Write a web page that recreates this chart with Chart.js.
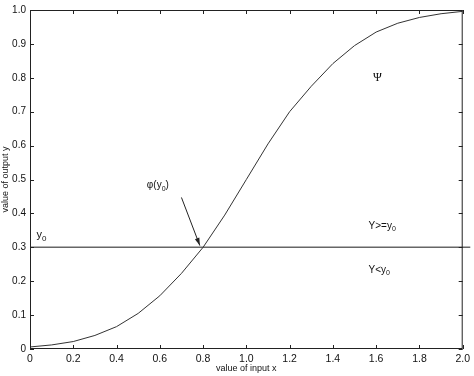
<!DOCTYPE html>
<html>
<head>
<meta charset="utf-8">
<script src="https://cdn.jsdelivr.net/npm/chart.js@4"></script>
<style>
  html, body { margin: 0; padding: 0; background: #fff; }
  #wrap { width: 474px; height: 376px; }
</style>
</head>
<body>
<div id="wrap"><canvas id="cdfChart" width="474" height="376"></canvas></div>
<script>
// valores
const inputX = [0, 0.1, 0.2, 0.3, 0.4, 0.5, 0.6, 0.7, 0.8, 0.9, 1.0,
                1.1, 1.2, 1.3, 1.4, 1.5, 1.6, 1.7, 1.8, 1.9, 2.0];
const outputY = [0.006, 0.012, 0.022, 0.04, 0.066, 0.105, 0.157, 0.223, 0.30, 0.395, 0.50,
                 0.605, 0.70, 0.775, 0.842, 0.895, 0.935, 0.961, 0.978, 0.989, 0.996];
const y0Level = 0.3;
const y0LineX = [0, 2.035];
const xTickStep = 0.2;
const yTickStep = 0.1;

const FONT = '"Liberation Sans", Arial, sans-serif';

const curvePoints = inputX.map((x, i) => ({ x: x, y: outputY[i] }));
const levelPoints = y0LineX.map(x => ({ x: x, y: y0Level }));

// texto con subindice
function drawSub(ctx, parts, x, y, size) {
    let cx = x;
    parts.forEach(p => {
        ctx.font = (p.sub ? size - 3 : size) + 'px ' + (p.font || FONT);
        ctx.fillText(p.t, cx, p.sub ? y + 3 : y);
        cx += ctx.measureText(p.t).width;
    });
}

const decoPlugin = {
    id: 'deco',
    afterDraw(chart) {
        const ctx = chart.ctx;
        const a = chart.chartArea;
        const xs = chart.scales.x;
        const ys = chart.scales.y;
        ctx.save();
        ctx.strokeStyle = '#222';
        ctx.lineWidth = 1;
        ctx.strokeRect(a.left + 0.5, a.top + 0.5, a.right - a.left - 1, a.bottom - a.top - 1);

        // marcas hacia dentro
        const tl = 4;
        ctx.beginPath();
        xs.ticks.forEach(t => {
            const px = Math.round(xs.getPixelForValue(t.value)) + 0.5;
            ctx.moveTo(px, a.bottom); ctx.lineTo(px, a.bottom - tl);
            ctx.moveTo(px, a.top); ctx.lineTo(px, a.top + tl);
        });
        ys.ticks.forEach(t => {
            const py = Math.round(ys.getPixelForValue(t.value)) + 0.5;
            ctx.moveTo(a.left, py); ctx.lineTo(a.left + tl, py);
            ctx.moveTo(a.right, py); ctx.lineTo(a.right - tl, py);
        });
        ctx.stroke();

        // titulos de ejes
        ctx.fillStyle = '#111';
        ctx.font = '9px ' + FONT;
        ctx.textAlign = 'center';
        ctx.textBaseline = 'middle';
        ctx.fillText('value of input x', (a.left + a.right) / 2, 369);
        ctx.save();
        ctx.translate(6, (a.top + a.bottom) / 2);
        ctx.rotate(-Math.PI / 2);
        ctx.fillText('value of output y', 0, 0);
        ctx.restore();

        // anotaciones
        ctx.textAlign = 'left';
        ctx.font = '12px "Liberation Serif", serif';
        ctx.fillText('\u03A8', xs.getPixelForValue(1.585), ys.getPixelForValue(0.80));
        drawSub(ctx, [{ t: 'y' }, { t: '0', sub: true }], xs.getPixelForValue(0.03), ys.getPixelForValue(0.335), 11);
        drawSub(ctx, [{ t: '\u03C6(y' }, { t: '0', sub: true }, { t: ')' }], xs.getPixelForValue(0.54), ys.getPixelForValue(0.482), 10);
        drawSub(ctx, [{ t: 'Y>=y' }, { t: '0', sub: true }], xs.getPixelForValue(1.565), ys.getPixelForValue(0.363), 10);
        drawSub(ctx, [{ t: 'Y<y' }, { t: '0', sub: true }], xs.getPixelForValue(1.565), ys.getPixelForValue(0.232), 10);

        // flecha
        const x1 = xs.getPixelForValue(0.70), y1 = ys.getPixelForValue(0.447);
        const x2 = xs.getPixelForValue(0.785), y2 = ys.getPixelForValue(0.305);
        ctx.beginPath();
        ctx.moveTo(x1, y1); ctx.lineTo(x2, y2);
        ctx.stroke();
        const ang = Math.atan2(y2 - y1, x2 - x1);
        const hl = 8, hw = 0.3;
        ctx.beginPath();
        ctx.moveTo(x2, y2);
        ctx.lineTo(x2 - hl * Math.cos(ang - hw), y2 - hl * Math.sin(ang - hw));
        ctx.lineTo(x2 - hl * Math.cos(ang + hw), y2 - hl * Math.sin(ang + hw));
        ctx.closePath();
        ctx.fillStyle = '#222';
        ctx.fill();
        ctx.restore();
    }
};

const ctx = document.getElementById('cdfChart').getContext('2d');
const cdfChart = new Chart(ctx, {
    type: 'line',
    data: {
        datasets: [{
            data: curvePoints,
            borderColor: '#333',
            borderWidth: 1,
            pointRadius: 0,
            tension: 0,
            fill: false
        }, {
            data: levelPoints,
            borderColor: '#666',
            borderWidth: 1.4,
            pointRadius: 0,
            clip: false,
            fill: false
        }]
    },
    options: {
        responsive: false,
        animation: false,
        layout: { padding: { top: 10, right: 10, left: 0, bottom: 0 } },
        plugins: {
            legend: { display: false },
            tooltip: { enabled: false }
        },
        scales: {
            x: {
                type: 'linear',
                min: 0,
                max: 2,
                grid: { display: false, drawTicks: false },
                border: { display: false },
                ticks: { stepSize: xTickStep, color: '#111', padding: 4, font: { family: FONT, size: 10.5 } },
                afterFit(scale) { scale.height = 27; }
            },
            y: {
                min: 0,
                max: 1,
                grid: { display: false, drawTicks: false },
                border: { display: false },
                ticks: { stepSize: yTickStep, color: '#111', padding: 4, font: { family: FONT, size: 10 } },
                afterFit(scale) { scale.width = 30; }
            }
        }
    },
    plugins: [decoPlugin]
});
</script>
</body>
</html>
